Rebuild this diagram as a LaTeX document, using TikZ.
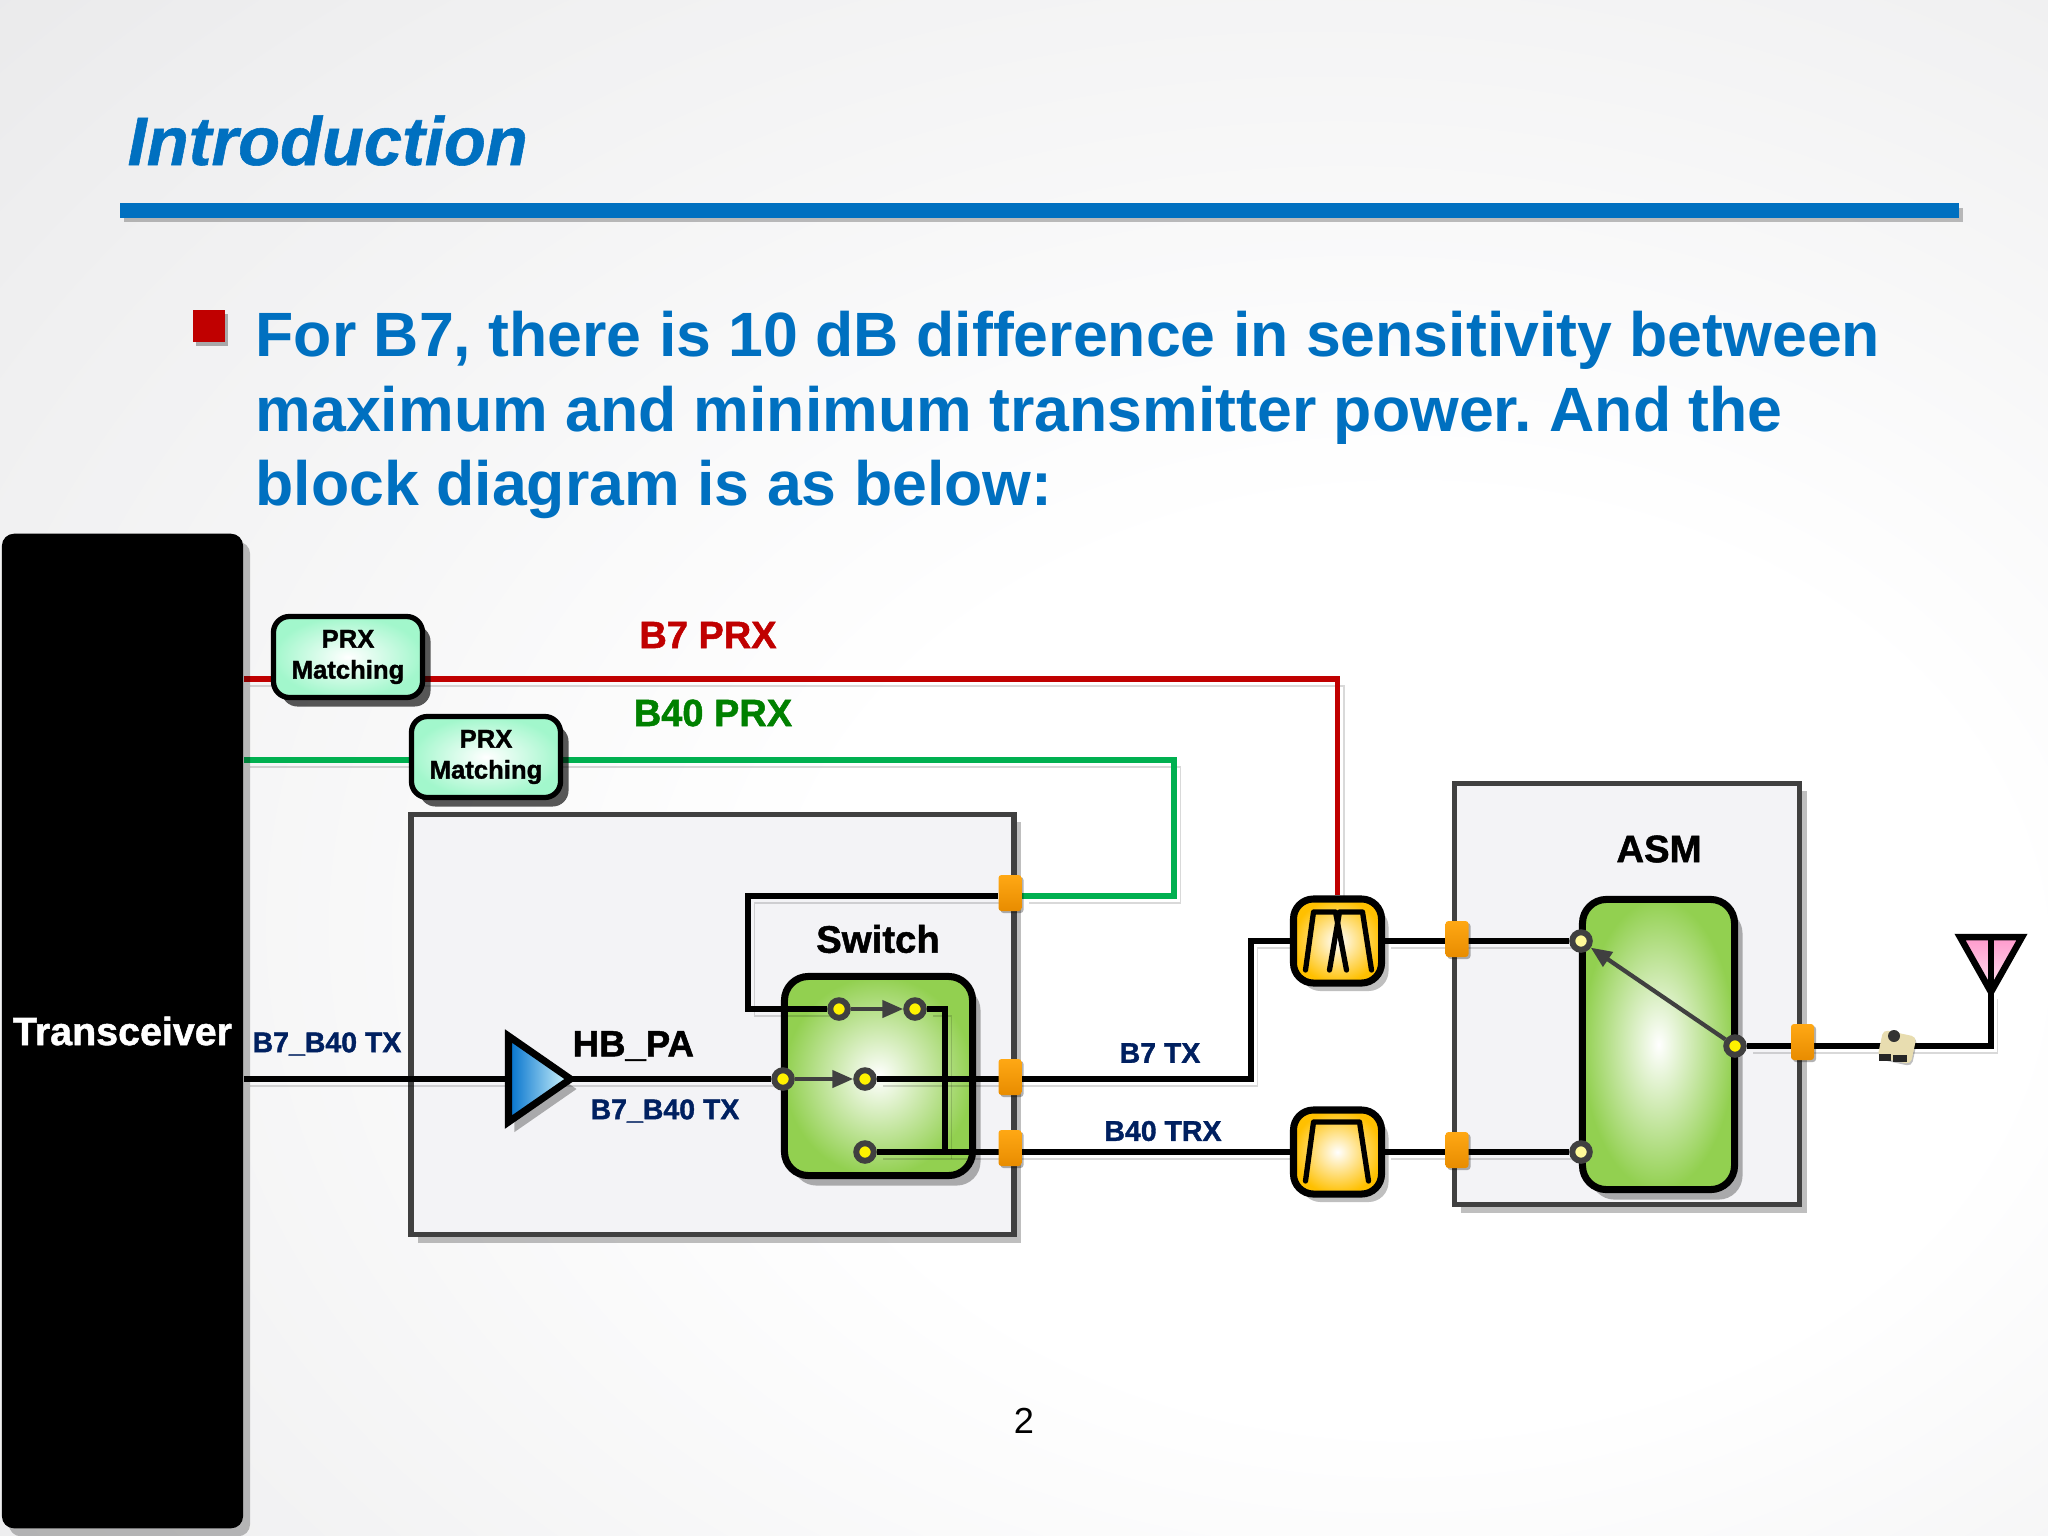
\documentclass[tikz,border=0pt]{standalone}
\usepackage{fontspec}
\setmainfont{Liberation Sans}
\newfontfamily\heavyfont{Liberation Sans Bold}[FakeBold=1.3]
\newfontfamily\titlefont{Liberation Sans Bold Italic}[FakeBold=0.8]
\usetikzlibrary{positioning, calc, arrows.meta, shadows, shapes.geometric}

\definecolor{slideblue}{HTML}{0070C0}
\definecolor{navytext}{HTML}{002060}
\definecolor{boxgray}{HTML}{404040}
\definecolor{panelfill}{HTML}{F3F3F6}
\definecolor{bgmid}{HTML}{EFEFF0}
\definecolor{bgedge}{HTML}{D0D0D2}
\definecolor{swgreen}{HTML}{92D050}
\definecolor{prxedge}{HTML}{A2F7CC}
\definecolor{fltedge}{HTML}{FFC000}
\definecolor{prxline}{HTML}{00B050}
\definecolor{prxred}{HTML}{C00000}
\definecolor{prxtext}{HTML}{008000}
\definecolor{portlight}{HTML}{FFA814}
\definecolor{portdark}{HTML}{E88C00}
\definecolor{antpink}{HTML}{FF99CC}
\definecolor{antpale}{HTML}{FFE6F2}
\definecolor{smtbody}{HTML}{E8DDB0}

\pgfdeclareradialshading{slidebg}{\pgfpoint{12bp}{-8bp}}{color(0bp)=(white); color(15bp)=(white); color(36bp)=(bgmid); color(72bp)=(bgedge)}
\pgfdeclarelayer{under}
\pgfdeclarelayer{wires}
\pgfsetlayers{under,wires,main}

\tikzset{
	softshadow/.style={drop shadow={shadow xshift=0.07cm, shadow yshift=-0.08cm, fill=black, opacity=0.25}},
	panel/.style={draw=boxgray, line width=1.55pt, fill=panelfill, rectangle, softshadow},
	swbox/.style={draw=black, line width=2pt, rectangle, rounded corners=0.24cm, inner color=white, outer color=swgreen, drop shadow={shadow xshift=0.08cm, shadow yshift=-0.1cm, fill=black, opacity=0.3}},
	fltbox/.style={draw=black, line width=2pt, rectangle, rounded corners=0.2cm, minimum width=0.88cm, minimum height=0.84cm, inner color=white, outer color=fltedge, softshadow},
	prxbox/.style={draw=black, line width=1.5pt, rectangle, rounded corners=0.16cm, minimum width=1.49cm, minimum height=0.81cm, inner color=white, outer color=prxedge, align=center, inner sep=0pt, font=\heavyfont\fontsize{7.3}{8.8}\selectfont, drop shadow={shadow xshift=0.08cm, shadow yshift=-0.09cm, fill=black, opacity=0.65}},
	portbox/.style={rectangle, rounded corners=0.03cm, minimum width=0.23cm, minimum height=0.36cm, inner sep=0pt, top color=portlight, bottom color=portdark, drop shadow={shadow xshift=0.02cm, shadow yshift=-0.02cm, fill=black, opacity=0.3}},
	swdot/.style={circle, draw=boxgray, line width=1.7pt, fill=yellow, minimum size=0.175cm, inner sep=0pt},
	palecontact/.style={swdot, fill=yellow!40},
	wire/.style={line width=1.85pt, line join=miter, preaction={draw=black, opacity=0.15, transform canvas={shift={(1.8pt,-2pt)}}}},
	rxwire/.style={line width=1.5pt, line join=miter, preaction={draw=black, opacity=0.15, transform canvas={shift={(1.8pt,-2pt)}}}},
	swarrow/.style={draw=boxgray, line width=1.2pt, -{Triangle[length=0.21cm, width=0.17cm]}},
	fltglyph/.style={line width=1.5pt, line join=round, line cap=round},
	heavylabel/.style={inner sep=0pt, font=\heavyfont\fontsize{10.9}{12}\selectfont},
	bandlabel/.style={inner sep=0pt, font=\heavyfont\fontsize{10.8}{12}\selectfont},
	txlabel/.style={inner sep=0pt, text=navytext, font=\heavyfont\fontsize{8.1}{10}\selectfont}
}

\begin{document}
\begin{tikzpicture}[x=0.01cm, y=-0.01cm]
	\useasboundingbox (0, 0) rectangle (2048, 1536);
	\begin{pgfonlayer}{under}
		\shade[shading=slidebg] (0, 0) rectangle (2048, 1536);
		\fill[black, opacity=0.25] (124, 208) rectangle (1963, 222);
		\fill[slideblue] (120, 203) rectangle (1959, 218);
		\node[panel, minimum width=6.03cm, minimum height=4.2cm] (pa_box) at (712.5, 1024.5) {};
		\node[panel, minimum width=3.45cm, minimum height=4.21cm] (asm_box) at (1627, 994) {};
		\node[swbox, minimum width=1.88cm, minimum height=1.99cm] (sw_box) at (878.5, 1076) {};
		\node[swbox, minimum width=1.52cm, minimum height=2.9cm] (asm_sw) at (1658.5, 1044.5) {};
	\end{pgfonlayer}

	\node[anchor=base west, inner sep=0pt, text=slideblue, font=\titlefont\fontsize{19.5}{24}\selectfont] (title) at (127, 165) {Introduction};
	\node[rectangle, fill=prxred, minimum width=0.32cm, minimum height=0.31cm, inner sep=0pt, drop shadow={shadow xshift=0.03cm, shadow yshift=-0.04cm, fill=black, opacity=0.3}] (bullet) at (209, 326) {};
	\node[anchor=west, inner sep=0pt, align=left, text=slideblue, font=\fontsize{17.8}{21.3}\selectfont\bfseries\frenchspacing] (body) at (255, 415) {For B7, there is 10 dB difference in sensitivity between\\maximum and minimum transmitter power. And the\\block diagram is as below:};
	\node[inner sep=0pt, font=\fontsize{10.3}{12}\selectfont] (page_no) at (1024, 1421) {2};

	\node[rectangle, fill=black, rounded corners=0.12cm, minimum width=2.41cm, minimum height=9.94cm, inner sep=0pt, text=white, font=\heavyfont\fontsize{11.2}{13}\selectfont, softshadow] (xcvr) at (122.5, 1031) {Transceiver};

	\node[prxbox] (prx_b7) at (348, 657) {PRX\\Matching};
	\node[prxbox] (prx_b40) at (486, 757) {PRX\\Matching};

	\node[isosceles triangle, isosceles triangle stretches, draw=black, line width=2pt, minimum width=0.86cm, minimum height=0.62cm, inner sep=0pt, left color=blue!45!cyan!80!black, right color=blue!10!cyan!15, drop shadow={shadow xshift=0.06cm, shadow yshift=-0.1cm, fill=black, opacity=0.3}] (pa) at (531, 1079) {};

	\node[fltbox] (flt_b7) at (1337.5, 941) {};
	\node[fltbox] (flt_b40) at (1337.5, 1152) {};
	\draw[fltglyph] ($(flt_b7)+(-32, 29)$) -- ($(flt_b7)+(-24, -29)$) -- ($(flt_b7)+(-2, -29)$) -- ($(flt_b7)+(9, 29)$);
	\draw[fltglyph] ($(flt_b7)+(-8, 29)$) -- ($(flt_b7)+(2, -29)$) -- ($(flt_b7)+(25, -29)$) -- ($(flt_b7)+(34, 29)$);
	\draw[fltglyph] ($(flt_b40)+(-32, 29)$) -- ($(flt_b40)+(-24, -30)$) -- ($(flt_b40)+(22, -30)$) -- ($(flt_b40)+(31, 29)$);

	\node[portbox] (p_rx) at (1010, 893) {};
	\node[portbox] (p_tx) at (1010, 1077) {};
	\node[portbox] (p_trx) at (1010, 1148) {};
	\node[portbox] (p_asm_a) at (1457, 939) {};
	\node[portbox] (p_asm_b) at (1457, 1150) {};
	\node[portbox] (p_ant) at (1802.5, 1042) {};

	\node[swdot] (sw_t1) at (839, 1009) {};
	\node[swdot] (sw_t2) at (915, 1009) {};
	\node[swdot] (sw_in) at (783, 1079) {};
	\node[swdot] (sw_c) at (865, 1079) {};
	\node[swdot] (sw_b) at (865, 1152) {};
	\node[palecontact] (asm_a) at (1581, 941) {};
	\node[palecontact] (asm_b) at (1581, 1152) {};
	\node[swdot] (asm_out) at (1735, 1046) {};

	\node[rectangle, rotate=-12, fill=smtbody, rounded corners=0.05cm, minimum width=0.34cm, minimum height=0.28cm, inner sep=0pt, drop shadow={shadow xshift=0.01cm, shadow yshift=-0.02cm, fill=black, opacity=0.25}] (smt) at (1897, 1047) {};
	\fill[black!80] ($(smt)+(-3, -11)$) circle (0.06cm);
	\fill[black!85] ($(smt)+(-18, 7)$) rectangle ($(smt)+(-6, 14)$);
	\fill[black!85] ($(smt)+(-4, 8)$) rectangle ($(smt)+(10, 15)$);

	\coordinate (ant_a) at (1960, 937);
	\coordinate (ant_b) at (2022, 937);
	\coordinate (ant_tip) at (1991, 992);
	\coordinate (ant_top) at (1991, 937);
	\coordinate (ant_feed) at (1991, 1046);
	\coordinate (rx_b7_bend) at (1337.5, 679);
	\coordinate (rx_b40_a) at (1174, 760);
	\coordinate (rx_b40_b) at (1174, 896);
	\coordinate (loop_a) at (748, 896);
	\coordinate (loop_b) at (748, 1009);
	\coordinate (drop_a) at (945, 1009);
	\coordinate (drop_b) at (945, 1152);
	\coordinate (tx_a) at (1251, 1079);
	\coordinate (tx_b) at (1251, 941);

	\begin{pgfonlayer}{wires}
		\draw[rxwire, prxred] (xcvr.east |- rx_b7_bend) -- (rx_b7_bend) -- (flt_b7.north);
		\draw[rxwire, prxline] (xcvr.east |- rx_b40_a) -- (rx_b40_a) -- (rx_b40_b) -- (p_rx.east |- rx_b40_b);
		\draw[wire] (xcvr.east |- pa.center) -- (pa.center) -- (sw_in);
		\draw[wire] (p_rx.west |- rx_b40_b) -- (loop_a) -- (loop_b) -- (sw_t1);
		\draw[wire] (sw_t2) -- (drop_a) -- (drop_b);
		\draw[wire] (sw_c) -- (tx_a) -- (tx_b) -- (flt_b7.west);
		\draw[wire] (sw_b) -- (drop_b) -- (flt_b40.west);
		\draw[wire] (flt_b7.east) -- (asm_a);
		\draw[wire] (flt_b40.east) -- (asm_b);
		\draw[wire] (asm_out) -- (ant_feed) -- (ant_tip);
	\end{pgfonlayer}

	\draw[line width=1.85pt, line join=miter, top color=antpink, bottom color=antpale] (ant_a) -- (ant_b) -- (ant_tip) -- cycle;
	\draw[line width=1.6pt] (ant_top) -- (ant_tip);

	\draw[swarrow] (sw_t1) -- (sw_t2);
	\draw[swarrow] (sw_in) -- (sw_c);
	\draw[swarrow] (asm_out) -- (asm_a);

	\node[heavylabel] (lbl_switch) at (878, 939) {Switch};
	\node[heavylabel] (lbl_asm) at (1659, 849) {ASM};
	\node[heavylabel, anchor=west, font=\heavyfont\fontsize{10.4}{12}\selectfont] (lbl_pa) at (572, 1046) {HB\_PA};
	\node[bandlabel, text=prxred] (lbl_b7) at (708, 635) {B7 PRX};
	\node[bandlabel, text=prxtext] (lbl_b40) at (713, 713) {B40 PRX};
	\node[txlabel] (lbl_tx_in) at (327, 1044) {B7\_B40 TX};
	\node[txlabel] (lbl_tx_pa) at (665, 1111) {B7\_B40 TX};
	\node[txlabel] (lbl_tx_b7) at (1160, 1053) {B7 TX};
	\node[txlabel] (lbl_trx) at (1163, 1131) {B40 TRX};
\end{tikzpicture}
\end{document}
